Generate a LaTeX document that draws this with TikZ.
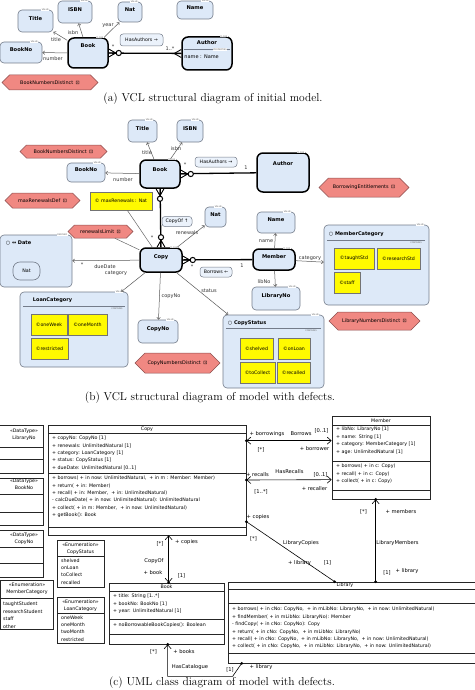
\documentclass[tikz,border=0pt]{standalone}
\usepackage{fontspec}
\newfontfamily\vclfont{DejaVu Sans}
\usetikzlibrary{arrows.meta,shapes.symbols,calc}
\definecolor{vblue}{RGB}{221,233,248}
\definecolor{vline}{RGB}{116,124,138}
\definecolor{hexred}{RGB}{240,136,130}
\definecolor{hexline}{RGB}{140,78,78}
\definecolor{litfill}{RGB}{255,250,0}

\begin{document}
\begin{tikzpicture}[x=1pt,y=-1pt,
    vbox/.style={draw=vline,fill=vblue,line width=.6pt,rounded corners=4pt,inner sep=0pt,
      font=\vclfont\fontsize{5.2}{5.5}\selectfont\bfseries},
    tagtxt/.style={inner sep=.4pt,fill=white,text=black!60,font=\vclfont\fontsize{2.2}{2.4}\selectfont},
    val/.style={vbox,text depth=5pt,label={[tagtxt,anchor=center,xshift=-8pt]north east:VALUE}},
    cls/.style={vbox,draw=black,line width=1.5pt,rounded corners=6pt,
      label={[tagtxt,anchor=center,xshift=-9pt]north east:CLASS}},
    ctitle/.style={anchor=west,inner sep=0pt,font=\vclfont\fontsize{5}{5}\selectfont\bfseries},
    hexa/.style={signal,signal to=west and east,signal pointer angle=90,draw=hexline,fill=hexred,
      line width=.5pt,inner sep=0pt,font=\vclfont\fontsize{4.9}{5}\selectfont},
    lit/.style={draw=black!55,fill=litfill,inner sep=0pt,line width=.5pt,
      font=\vclfont\fontsize{4.7}{5}\selectfont},
    rel/.style={draw=vline,fill=vblue!60,line width=.5pt,rounded corners=3pt,inner sep=0pt,
      font=\vclfont\fontsize{4.7}{5}\selectfont},
    prop/.style={draw=black!65,line width=.5pt,-{Straight Barb[length=2pt,width=3.5pt]}},
    el/.style={font=\vclfont\fontsize{5}{5}\selectfont,text=black!80,inner sep=0pt},
    assoc/.style={line width=1.3pt},
    crow/.pic={\draw[line width=.9pt] (0,-4) -- (7,0) -- (0,4) (0,0) -- (7,0);},
    crowo/.pic={\draw[line width=.9pt] (0,-4) -- (7,0) -- (0,4) (0,0) -- (7,0);
      \draw[line width=1pt,fill=white] (10,0) circle (2.6pt);},
    uml/.style={draw=black!85,line width=.7pt,inner sep=0pt},
    ut/.style={font=\vclfont\fontsize{4.75}{7.4}\selectfont,inner sep=0pt,align=left,anchor=north west},
    uh/.style={font=\vclfont\fontsize{4.75}{7}\selectfont,inner sep=0pt,align=center},
    ul/.style={font=\vclfont\fontsize{5.2}{6}\selectfont,inner sep=0pt},
    ua/.style={line width=.6pt},
    >={Straight Barb[length=4pt,width=7pt]},
    capt/.style={font=\fontsize{11.5}{13}\selectfont,inner sep=0pt}]
  \useasboundingbox (0,0) rectangle (474,690);

  \node[val,minimum width=35,minimum height=22] (ta) at (35.5,21) {Title};
  \node[val,minimum width=34,minimum height=22] (ia) at (75,12) {ISBN};
  \node[val,minimum width=24,minimum height=20] (na) at (130,12) {Nat};
  \node[val,minimum width=36,minimum height=18] (ma) at (195,10) {Name};
  \node[val,minimum width=42,minimum height=21] (bna) at (21,52.5) {BookNo};
  \node[cls,minimum width=40,minimum height=30,text depth=15pt] (ba) at (88,53) {Book};
  \node[cls,minimum width=50,minimum height=33,text depth=22pt,
    label={[ctitle,font=\vclfont\fontsize{5}{5}\selectfont,xshift=3pt,yshift=-3pt]west:name : Name}]
    (aa) at (207,53.5) {Author};
  \draw[vline,line width=.5pt] (184,49) -- (230,49);
  \node[tagtxt] (pa) at (220,49.5) {PROPERTIES};
  \node[rel,minimum width=43,minimum height=12] (haa) at (141.5,40) {HasAuthors →};
  \node[hexa,minimum width=96,minimum height=15] (bnda) at (50,82.5) {BookNumbersDistinct\enspace⊡};
  \draw[prop] (ba) -- (ta);
  \draw[prop] (ba) -- (ia);
  \draw[prop] (ba) -- (na);
  \draw[prop] (ba) -- (bna);
  \draw[assoc] (ba) -- (aa);
  \pic at (ba.east) {crowo};
  \pic[rotate=180] at (aa.west) {crow};
  \node[capt] (capa) at (213,99) {(a) VCL structural diagram of initial model.};

  \node[val,minimum width=29,minimum height=22] (tb) at (142.5,131) {Title};
  \node[val,minimum width=26,minimum height=22] (ib) at (190,131) {ISBN};
  \node[hexa,minimum width=87,minimum height=13] (bndb) at (63.5,151.5) {BookNumbersDistinct\enspace⊡};
  \node[val,minimum width=38,minimum height=19] (bnb) at (86,172.5) {BookNo};
  \node[cls,minimum width=40,minimum height=28,text depth=9pt] (bb) at (160,174) {Book};
  \node[rel,minimum width=42,minimum height=10] (hab) at (216,162) {HasAuthors →};
  \node[cls,minimum width=52,minimum height=39,text depth=17pt] (ab) at (283,172.5) {Author};
  \node[hexa,minimum width=90,minimum height=19] (be) at (364,187.5) {BorrowingEntitlements\enspace⊡};
  \node[hexa,minimum width=75,minimum height=15] (mrd) at (42.5,200.5) {maxRenewalsDef\enspace⊡};
  \node[lit,minimum width=62,minimum height=18] (mr) at (121,201) {© maxRenewals : Nat};
  \node[rel,minimum width=30,minimum height=10] (co) at (177,221.5) {CopyOf ↑};
  \node[val,minimum width=21,minimum height=20] (nb) at (215.5,217) {Nat};
  \node[val,minimum width=38,minimum height=21] (mb) at (276,222.5) {Name};
  \node[hexa,minimum width=65,minimum height=13] (rl) at (100.5,231.5) {renewalsLimit\enspace⊡};
  \node[vbox,minimum width=72,minimum height=52,
    label={[tagtxt,anchor=center,xshift=-10pt]north east:DERIVED},
    label={[ctitle,xshift=6pt,yshift=-8pt]north west:○ ↔ Date}] (db) at (36,261) {};
  \node[vbox,minimum width=27,minimum height=18,rounded corners=7pt,
    font=\vclfont\fontsize{4.8}{5}\selectfont] (dn) at (26.5,271) {Nat};
  \node[cls,minimum width=42,minimum height=24,text depth=7pt] (cb) at (161,260) {Copy};
  \node[cls,minimum width=42,minimum height=21,text depth=6pt] (meb) at (274,259.5) {Member};
  \node[rel,minimum width=32,minimum height=10] (bo) at (216,272) {Borrows ←};
  \node[val,minimum width=48,minimum height=23] (lnb) at (276,298.5) {LibraryNo};
  \node[val,minimum width=40,minimum height=23] (cnb) at (158,331.5) {CopyNo};
  \node[hexa,minimum width=91,minimum height=18] (lnd) at (374.5,321) {LibraryNumbersDistinct\enspace⊡};
  \node[hexa,minimum width=85,minimum height=20] (cnd) at (177.5,363) {CopyNumbersDistinct\enspace⊡};

  \node[vbox,minimum width=105,minimum height=80,
    label={[tagtxt,anchor=center,xshift=-9pt]north east:VALUE},
    label={[ctitle,xshift=5pt,yshift=-9pt]north west:○ MemberCategory}] (mcb) at (376.5,265) {};
  \draw[vline,line width=.5pt] (327,240) -- (425,240);
  \node[tagtxt,fill=none] (mcc) at (416,242.5) {CONTAINS};
  \node[lit,minimum width=40,minimum height=21] (ts) at (354,258.5) {©taughtStd};
  \node[lit,minimum width=43,minimum height=21] (rs) at (398.5,258.5) {©researchStd};
  \node[lit,minimum width=26,minimum height=21] (st) at (347,282.5) {©staff};

  \node[vbox,minimum width=108,minimum height=75,
    label={[tagtxt,anchor=center,xshift=-9pt]north east:VALUE},
    label={[ctitle,xshift=13pt,yshift=-8pt]north west:LoanCategory}] (lcb) at (74,329.5) {};
  \draw[vline,line width=.5pt] (23,306) -- (125,306);
  \node[tagtxt,fill=none] (lcc) at (117,308.5) {CONTAINS};
  \node[lit,minimum width=36,minimum height=21] (ow) at (49,324.5) {©oneWeek};
  \node[lit,minimum width=39,minimum height=21] (om) at (87.5,324.5) {©oneMonth};
  \node[lit,minimum width=37,minimum height=21] (rt) at (49.5,348.5) {©restricted};

  \node[vbox,minimum width=101,minimum height=73,
    label={[tagtxt,anchor=center,xshift=-9pt]north east:VALUE},
    label={[ctitle,xshift=5pt,yshift=-8pt]north west:○ CopyStatus}] (csb) at (273.5,351.5) {};
  \draw[vline,line width=.5pt] (226,328) -- (321,328);
  \node[tagtxt,fill=none] (csc) at (311,331) {CONTAINS};
  \node[lit,minimum width=33,minimum height=21] (sh) at (256.5,348.5) {©shelved};
  \node[lit,minimum width=32,minimum height=21] (ol) at (294,348.5) {©onLoan};
  \node[lit,minimum width=35,minimum height=21] (tc) at (257.5,372.5) {©toCollect};
  \node[lit,minimum width=33,minimum height=21] (rc) at (293.5,372.5) {©recalled};

  \draw[prop] (bb) -- (tb);
  \draw[prop] (bb) -- (ib);
  \draw[prop] (bb) -- (bnb);
  \draw[prop] (cb) -- (nb);
  \draw[prop] (cb) -- (db);
  \draw[prop] (cb) -- (lcb);
  \draw[prop] (cb) -- (cnb);
  \draw[prop] (cb) -- (csb);
  \draw[prop] (meb) -- (mb);
  \draw[prop] (meb) -- (lnb);
  \draw[prop] (meb) -- (mcb);
  \draw[black!60,line width=.5pt] (mr) -- (cb);
  \draw[black!60,line width=.5pt] (rl) -- (cb);
  \draw[assoc] (bb) -- (ab);
  \draw[assoc] (bb) -- (cb);
  \draw[assoc] (cb) -- (meb);
  \pic at (bb.east) {crowo};
  \pic[rotate=-90] at (bb.south) {crowo};
  \pic[rotate=90] at (cb.north) {crowo};
  \pic at (cb.east) {crowo};
  \foreach \n/\x/\y/\t in {la1/56/40/title, la2/73/33/isbn, la3/108/26/year, la4/53/59/number,
      la5/113/47/*, la6/170/49/1..*, lb1/147/153/title, lb2/176/149/isbn, lb3/123/180/number,
      lb4/185/165/*, lb5/246/168/1, lb6/187/233/renewals, lb7/152/238/*, lb8/105/267/dueDate,
      lb9/82/265/*, lb10/116/273/category, lb11/171/296/copyNo, lb12/209/291/status,
      lb13/192/267/*, lb14/242/266/1, lb15/266/241/name, lb16/264/282/libNo, lb17/310/258/category}
    \node[el] (\n) at (\x,\y) {\t};
  \node[capt] (capb) at (210,398) {(b) VCL structural diagram of model with defects.};

  \node[uml,minimum width=49,minimum height=48] (dtLN) at (18.5,449) {};
  \foreach \y in {447,459} \draw[uml] (-6,\y) -- (43,\y);
  \node[uh] (hLN) at (24,435) {«DataType»\\LibraryNo};
  \node[uml,minimum width=49,minimum height=47] (dtBN) at (18.5,501.5) {};
  \foreach \y in {494,512} \draw[uml] (-6,\y) -- (43,\y);
  \node[uh] (hBN) at (24,484.5) {«DataType»\\BookNo};
  \node[uml,minimum width=49,minimum height=47] (dtCN) at (18.5,553.5) {};
  \foreach \y in {547,563} \draw[uml] (-6,\y) -- (43,\y);
  \node[uh] (hCN) at (24,538.5) {«DataType»\\CopyNo};

  \node[uml,minimum width=53,minimum height=49] (enMC) at (26.5,604.5) {};
  \draw[uml] (0,598) -- (53,598);
  \node[uh] (hMC) at (27,589) {«Enumeration»\\MemberCategory};
  \node[ut] (lMC) at (3,602) {taughtStudent\\researchStudent\\staff\\other};
  \node[uml,minimum width=47,minimum height=47] (enCS) at (80.5,563.5) {};
  \draw[uml] (57,556) -- (104,556);
  \node[uh] (hCS) at (80.5,548.5) {«Enumeration»\\CopyStatus};
  \node[ut] (lCS) at (61,558.3) {shelved\\onLoan\\toCollect\\recalled};
  \node[uml,minimum width=47,minimum height=46] (enLC) at (80.5,620) {};
  \draw[uml] (57,613) -- (104,613);
  \node[uh] (hLC) at (80.5,605.5) {«Enumeration»\\LoanCategory};
  \node[ut] (lLC) at (61,615.3) {oneWeek\\oneMonth\\twoMonth\\restricted};

  \node[uml,minimum width=198,minimum height=110] (cCopy) at (147,480) {};
  \foreach \y in {433,473,527} \draw[uml] (48,\y) -- (246,\y);
  \node[uh] (hCopy) at (147,429) {Copy};
  \node[ut] (aCopy) at (52,435.8) {+ copyNo: CopyNo [1]\\+ renewals: UnlimitedNatural [1]\\
    + category: LoanCategory [1]\\+ status: CopyStatus [1]\\+ dueDate: UnlimitedNatural [0..1]};
  \node[ut] (oCopy) at (52,475.8) {+ borrows( + in now: UnlimitedNatural,\ \ + in m : Member: Member)\\
    + return( + in: Member)\\+ recall( + in: Member,\ \ + in: UnlimitedNatural)\\
    - calcDueDate( + in now: UnlimitedNatural): UnlimitedNatural\\
    + collect( + in m: Member,\ \ + in now: UnlimitedNatural)\\+ getBook(): Book};

  \node[uml,minimum width=98,minimum height=83] (cMember) at (381,457.5) {};
  \foreach \y in {425,461,490} \draw[uml] (332,\y) -- (430,\y);
  \node[uh] (hMember) at (381,420.5) {Member};
  \node[ut] (aMember) at (336,427) {+ libNo: LibraryNo [1]\\+ name: String [1]\\
    + category: MemberCategory [1]\\+ age: UnlimitedNatural [1]};
  \node[ut] (oMember) at (336,464) {+ borrows( + in c: Copy)\\+ recall( + in c: Copy)\\+ collect( + in c: Copy)};

  \node[uml,minimum width=115,minimum height=61] (cBook) at (166.5,613.5) {};
  \foreach \y in {591,619,634} \draw[uml] (109,\y) -- (224,\y);
  \node[uh] (hBook) at (166.5,587) {Book};
  \node[ut] (aBook) at (113,594) {+ title: String [1..*]\\+ bookNo: BookNo [1]\\+ year: UnlimitedNatural [1]};
  \node[ut] (oBook) at (113,623) {+ noBorrowableBookCopies(): Boolean};

  \node[uml,minimum width=252,minimum height=81] (cLib) at (354,622.5) {};
  \foreach \y in {589,603,653} \draw[uml] (228,\y) -- (480,\y);
  \node[uh] (hLib) at (345,585.5) {Library};
  \node[ut] (oLib) at (232,607) {+ borrows( + in cNo: CopyNo,\ \ + in mLibNo: LibraryNo,\ \ + in now: UnlimitedNatural)\\
    + findMember( + in mLibNo: LibraryNo): Member\\- findCopy( + in cNo: CopyNo): Copy\\
    + return( + in cNo: CopyNo,\ \ + in mLibNo: LibraryNo)\\
    + recall( + in cNo: CopyNo,\ \ + in mLibNo: LibraryNo,\ \ + in now: UnlimitedNatural)\\
    + collect( + in cNo: CopyNo,\ \ + in mLibNo: LibraryNo,\ \ + in now: UnlimitedNatural)};

  \coordinate (bw1) at ($(cCopy.north east)+(0,16)$);
  \coordinate (bw2) at ($(cMember.north west)+(0,25)$);
  \coordinate (rc1) at (cCopy.east);
  \coordinate (rc2) at ($(cMember.north west)+(0,64)$);
  \coordinate (cf1) at ($(cCopy.south west)+(121,0)$);
  \coordinate (cf2) at ($(cBook.north west)+(60,0)$);
  \coordinate (lm1) at ($(cMember.south west)+(44,0)$);
  \coordinate (lm2) at ($(cLib.north west)+(148,0)$);
  \coordinate (lc1) at ($(cCopy.north east)+(0,97)$);
  \coordinate (lc2) at ($(cLib.north west)+(107,0)$);
  \coordinate (hc1) at ($(cBook.south west)+(59,0)$);
  \coordinate (hc2) at ($(cLib.south west)+(14,0)$);
  \draw[ua,<->] (bw1) -- (bw2);
  \draw[ua,<->] (rc1) -- (rc2);
  \draw[ua,<->] (cf1) -- (cf2);
  \draw[ua,<-] (lm1) -- (lm2);
  \draw[ua] (lc1) -- (lc2);
  \draw[ua,<-] (hc1) -- ++(0,32) -- ++(65,0) -- (hc2);
  \foreach \p in {bw1,rc1,cf2,lm1,lm2,lc1,lc2,hc1,hc2} \fill (\p) circle (1.5pt);
  \foreach \n/\x/\y/\t in {lc01/267/434/+ borrowings, lc02/301/434/Borrows, lc03/321.5/431/[0..1],
      lc04/261/450/[*], lc05/314.5/449/+ borrower, lc06/257.5/475/+ recalls, lc07/289.5/472/HasRecalls,
      lc08/320.5/475/[0..1], lc09/261/492/[1..*], lc10/314.5/489/+ recaller,
      lc11/258/517/+ copies, lc12/253.5/539/[*], lc13/301/543/LibraryCopies, lc14/299.5/563/+ library,
      lc15/327.5/563/[1], lc16/363.5/512/[*], lc17/401/512/+ members, lc18/397.5/543/LibraryMembers,
      lc19/387/573/[1], lc20/407/571/+ library, lc21/160/544/[*], lc22/186.5/542/+ copies,
      lc23/154/561/CopyOf, lc24/153/573/+ book, lc25/181.5/576/[1], lc26/153.5/652/[*],
      lc27/184/652/+ books, lc28/190/667/HasCatalogue, lc29/230/670/[1], lc30/261/667/+ library}
    \node[ul] (\n) at (\x,\y) {\t};
  \node[capt] (capc) at (222,683) {(c) UML class diagram of model with defects.};
\end{tikzpicture}
\end{document}
